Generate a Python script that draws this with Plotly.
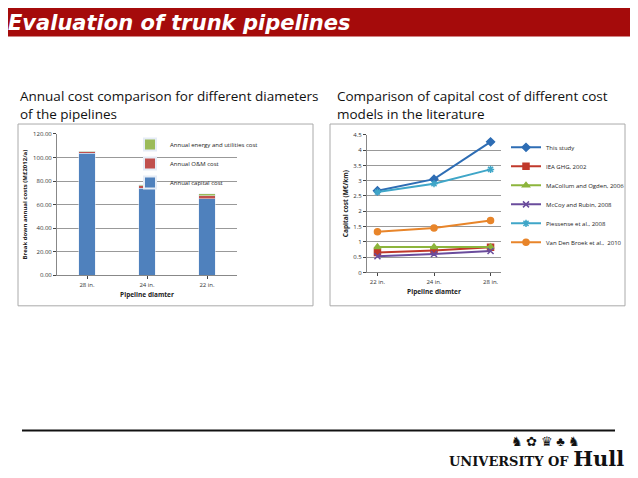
import plotly.graph_objects as go

W, H = 622, 462   # page adds an 8px body margin
OFF = 8

# left chart data
diam_left = ["28 in.", "24 in.", "22 in."]
capital = [103.5, 74.0, 65.0]
om = [1.5, 2.0, 2.5]
energy = [0.3, 1.0, 1.5]

# right chart data
diam_right = ["22 in.", "24 in.", "28 in."]
this_study = [2.67, 3.05, 4.27]
iea = [0.65, 0.72, 0.82]
macollum = [0.83, 0.83, 0.83]
mccoy = [0.53, 0.60, 0.70]
piessense = [2.63, 2.90, 3.37]
vdbroek = [1.33, 1.45, 1.70]


def px(x):
    return (x - OFF) / W


def py(y):
    return 1 - (y - OFF) / H


fig = go.Figure()
for name, vals, col in [("Annual capital cost", capital, "#4F81BD"),
                        ("Annual O&M cost", om, "#C0504D"),
                        ("Annual energy and utilities cost", energy, "#9BBB59")]:
    fig.add_trace(go.Bar(x=diam_left, y=vals, name=name, marker_color=col,
                         width=0.27, xaxis="x", yaxis="y", legend="legend"))

series = [("This study", this_study, "#2E6DB4", "diamond"),
          ("IEA GHG, 2002", iea, "#C0392B", "square"),
          ("MaCollum and Ogden, 2006", macollum, "#8DB53C", "triangle-up"),
          ("McCoy and Rubin, 2008", mccoy, "#6A4C9C", "x-thin"),
          ("Piessense et al., 2008", piessense, "#3FA6C8", "asterisk"),
          ("Van Den Broek et al.,  2010", vdbroek, "#E8852A", "circle")]
for name, vals, col, sym in series:
    fig.add_trace(go.Scatter(x=diam_right, y=vals, name=name, mode="lines+markers",
                             line=dict(color=col, width=2),
                             marker=dict(symbol=sym, size=6, color=col,
                                         line=dict(color=col, width=1.5)),
                             xaxis="x2", yaxis="y2", legend="legend2"))

tick = dict(size=6, color="#333")
fig.update_layout(
    width=W, height=H, margin=dict(l=0, r=0, t=0, b=0),
    paper_bgcolor="white", plot_bgcolor="white", barmode="stack",
    font=dict(family="Open Sans, Liberation Sans", color="#222"),
    xaxis=dict(domain=[px(57), px(237)], anchor="y", tickfont=tick,
               showline=True, linecolor="#888", ticks="outside", ticklen=3,
               title=dict(text="<b>Pipeline diamter</b>", font=dict(size=6.5), standoff=4)),
    yaxis=dict(domain=[py(276), py(132)], anchor="x", range=[0, 120], dtick=20,
               tickformat=".2f", tickfont=tick, gridcolor="#999", showline=True,
               linecolor="#888", ticks="outside", ticklen=3,
               title=dict(text="<b>Break down annual costs (M£2012/a)</b>", font=dict(size=6), standoff=4)),
    xaxis2=dict(domain=[px(367), px(501)], anchor="y2", tickfont=tick,
                showline=True, linecolor="#888", ticks="outside", ticklen=3,
                title=dict(text="<b>Pipeline diamter</b>", font=dict(size=6.5), standoff=4)),
    yaxis2=dict(domain=[py(273), py(133)], anchor="x2", range=[0, 4.5], dtick=0.5,
                tickfont=tick, gridcolor="#999", showline=True, linecolor="#888",
                ticks="outside", ticklen=3,
                title=dict(text="<b>Capital cost (M€/km)</b>", font=dict(size=6.5), standoff=4)),
    legend=dict(x=px(130), y=py(128), xanchor="left", yanchor="top", font=dict(size=6),
                traceorder="reversed", bgcolor="rgba(0,0,0,0)", itemwidth=30,
                itemsizing="constant"),
    legend2=dict(x=px(506), y=py(131), xanchor="left", yanchor="top", font=dict(size=6),
                 bgcolor="rgba(0,0,0,0)", itemwidth=30),
    shapes=[
        dict(type="rect", xref="paper", yref="paper", x0=-0.02, x1=1.02, y0=py(33), y1=1.02,
             fillcolor="#A50B0B", line_width=0, layer="below"),
        dict(type="rect", xref="paper", yref="paper", x0=px(18), x1=px(313), y0=py(307), y1=py(122),
             line=dict(color="#aaa", width=1)),
        dict(type="rect", xref="paper", yref="paper", x0=px(330), x1=px(625), y0=py(307), y1=py(122),
             line=dict(color="#aaa", width=1)),
        dict(type="line", xref="paper", yref="paper", x0=px(22), x1=px(615), y0=py(434), y1=py(434),
             line=dict(color="#111", width=2)),
    ],
    annotations=[
        dict(text="<b><i>Evaluation of trunk pipelines</i></b>", x=px(6), y=py(19), xref="paper",
             yref="paper", xanchor="left", yanchor="middle", showarrow=False,
             font=dict(size=21, color="white", family="DejaVu Sans")),
        dict(text="Annual cost comparison for different diameters<br>of the pipelines", x=px(18),
             y=py(82), xref="paper", yref="paper", xanchor="left", yanchor="top", align="left",
             showarrow=False, font=dict(size=13.5, color="#111")),
        dict(text="Comparison of capital cost of different cost<br>models in the literature", x=px(335),
             y=py(82), xref="paper", yref="paper", xanchor="left", yanchor="top", align="left",
             showarrow=False, font=dict(size=13.5, color="#111")),
        dict(text="<b>UNIVERSITY OF <span style='font-size:21px'>Hull</span></b>", x=px(626), y=py(462),
             xref="paper", yref="paper", xanchor="right", yanchor="middle", showarrow=False,
             font=dict(size=13, color="#111", family="DejaVu Serif")),
        dict(text="♞ ✿ ♛ ♣ ♞", x=px(545), y=py(445), xref="paper", yref="paper",
             xanchor="center", yanchor="middle", showarrow=False,
             font=dict(size=13, color="#111")),
    ],
)

fig.write_html("out.html")
